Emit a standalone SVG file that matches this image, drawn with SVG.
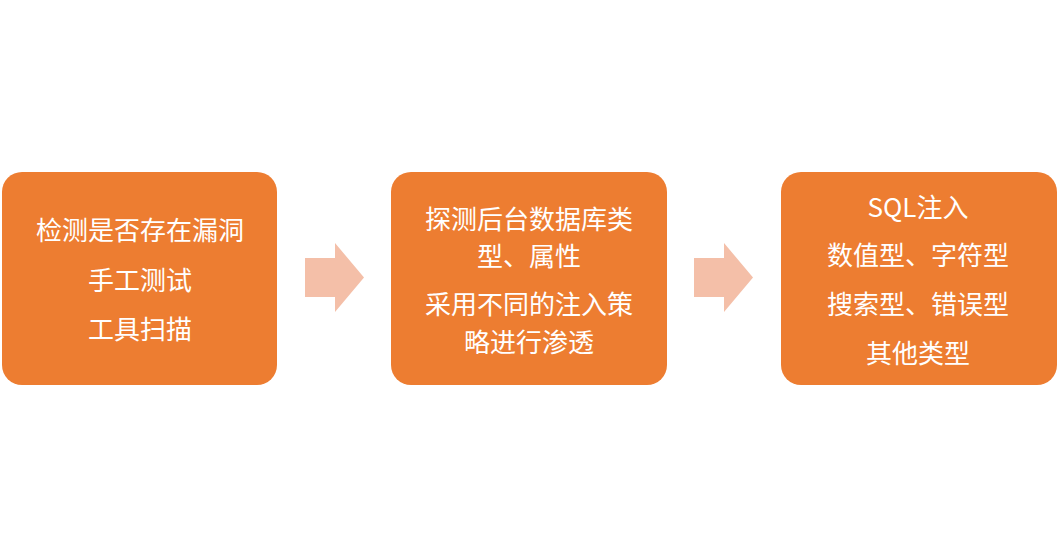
<svg xmlns="http://www.w3.org/2000/svg" width="1059" height="557" viewBox="0 0 1059 557">
<style>
.box{fill:#ED7D31}
.arr{fill:#F4BFA8}
text{fill:#fff;font-family:"Noto Sans CJK SC","Liberation Sans",sans-serif;font-size:26px;text-anchor:middle;dominant-baseline:central}
</style>
<rect width="1059" height="557" fill="#fff"/>
<g id="connectors">
<polygon class="arr" points="305,258 335,258 335,243 364,277.5 335,312 335,297 305,297"/>
<polygon class="arr" points="694,258 724,258 724,243 753,277.5 724,312 724,297 694,297"/>
</g>
<g id="node1"><rect class="box" x="2" y="172" width="275" height="213" rx="20"/>
<text x="140" y="228">检测是否存在漏洞</text><text x="140" y="278">手工测试</text><text x="140" y="327">工具扫描</text></g>
<g id="node2"><rect class="box" x="391" y="172" width="276" height="213" rx="20"/>
<text x="529" y="217">探测后台数据库类</text><text x="529" y="254">型、属性</text><text x="529" y="302">采用不同的注入策</text><text x="529" y="340">略进行渗透</text></g>
<g id="node3"><rect class="box" x="781" y="172" width="276" height="213" rx="20"/>
<text x="918" y="205">SQL注入</text><text x="918" y="253">数值型、字符型</text><text x="918" y="302">搜索型、错误型</text><text x="918" y="351">其他类型</text></g>
</svg>
